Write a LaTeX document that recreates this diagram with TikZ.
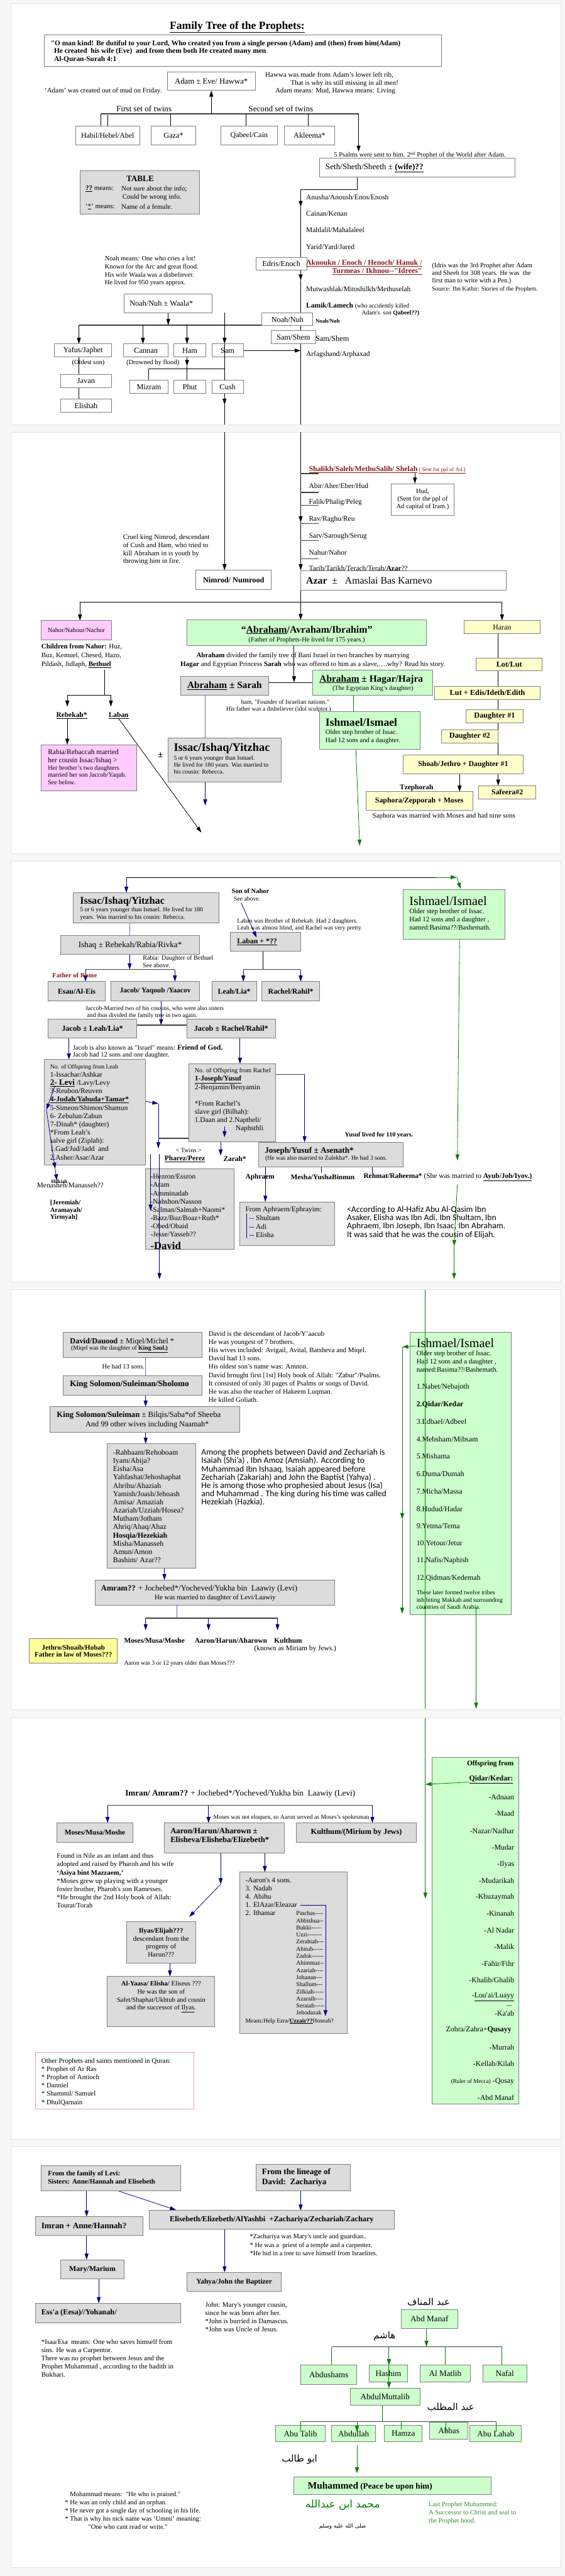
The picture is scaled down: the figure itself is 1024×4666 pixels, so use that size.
\documentclass[tikz,border=0pt]{standalone}
\usepackage{fontspec}
\setmainfont{Liberation Serif}[Ligatures=TeXOff]
\newfontfamily\sansf{Carlito}[Ligatures=TeXOff]
\newfontfamily\arabicfont[Script=Arabic]{DejaVu Sans}
\TeXXeTstate=1
\usetikzlibrary{arrows.meta}
\pgfdeclarelayer{back}
\pgfdeclarelayer{lines}
\pgfsetlayers{back,lines,main}
\definecolor{pagebg}{HTML}{F7F7F7}
\definecolor{panelline}{HTML}{E2E2E2}
\definecolor{boxgray}{HTML}{DCDCDC}
\definecolor{boxgreen}{HTML}{CCFFCC}
\definecolor{boxyellow}{HTML}{FFFFCC}
\definecolor{jyellow}{HTML}{FFFF99}
\definecolor{boxpink}{HTML}{FFCCFF}
\definecolor{darkred}{HTML}{8B1A1A}
\definecolor{navy}{HTML}{000080}
\definecolor{slate}{HTML}{6B6BB5}
\definecolor{agreen}{HTML}{008000}
\definecolor{tgreen}{HTML}{2F8F2F}
\definecolor{pinkline}{HTML}{F0A0A0}
\newcommand\fsz[2]{\fontsize{#1}{#2}\selectfont}
\newcommand\bx[7]{\node[#6, minimum width={(#4)-(#2)}, minimum height={(#5)-(#3)}] (#1) at ({((#2)+(#4))/2},{((#3)+(#5))/2}) {#7};}
\tikzset{
  panel/.style={fill=white, draw=panelline, line width=1.2pt},
  box/.style={draw=black!50, line width=1.1pt, inner sep=0pt, outer sep=0pt, align=center},
  wbox/.style={box, fill=white},
  gbox/.style={box, fill=boxgray},
  grbox/.style={box, fill=boxgreen},
  ybox/.style={box, fill=boxyellow},
  pbox/.style={box, fill=boxpink},
  txt/.style={inner sep=0pt, outer sep=0pt, align=left},
  arab/.style={inner sep=0pt, outer sep=0pt},
  tipA/.style={-{Triangle[width=7pt,length=11pt]}},
  ln/.style={draw=black, line width=0.9pt},
  arr/.style={ln, tipA},
  nln/.style={draw=navy, line width=0.9pt},
  narr/.style={nln, tipA},
  sln/.style={draw=slate, line width=0.9pt},
  gln/.style={draw=agreen, line width=0.9pt},
  garr/.style={gln, tipA},
  bar/.style={draw=black!75, line width=1.6pt}
}
\begin{document}
\begin{tikzpicture}[x=1pt,y=-1pt]
\useasboundingbox (0,0) rectangle (1024,4666);
\begin{pgfonlayer}{back}
\fill[pagebg] (0,0) rectangle (1024,4666);
\foreach \a/\b in {6/769,783/1546,1560/2322,2336/3097,3112/3875,3889/4651} {\draw[panel] (20,\a) rectangle (1017,\b);}
\end{pgfonlayer}

% ================= PANEL 1 =================
\node[txt, font=\fsz{20}{24}\bfseries] (title) at (430,49) {\underline{Family Tree of the Prophets:}};
\bx{quote}{80}{63}{800}{120}{wbox}{}
\node[txt, anchor=north west, font=\fsz{13}{14.5}\bfseries] (quotetxt) at (92,73) {"O man kind! Be dutiful to your Lord, Who created you from a single person (Adam) and (then) from him(Adam)\\\hspace*{6pt}He created\ \ his wife (Eve)\ \ and from them both He created many men\\\hspace*{6pt}Al-Quran-Surah 4:1};
\bx{adam}{303}{130}{463}{164}{wbox}{\fsz{14.5}{17}Adam ± Eve/ Hawwa*}
\node[txt, anchor=north west, font=\fsz{12.5}{14}] (hawwa) at (481,131) {Hawwa was made from Adam’s lower left rib,\\\hspace*{46pt}That is why its still missing in all men!\\\hspace*{18pt}Adam means: Mud, Hawwa means: Living};
\node[txt, anchor=west, font=\fsz{12.5}{14}] (mudnote) at (81,165) {‘Adam’ was created out of mud on Friday.};
\node[txt, font=\fsz{15}{17}] (tw1) at (261,197) {First set of twins};
\node[txt, font=\fsz{15}{17}] (tw2) at (509,197) {Second set of twins};
\bx{habil}{137}{228}{253}{263}{wbox}{\fsz{13.5}{16}Habil/Hebel/Abel}
\bx{gaza}{274}{228}{355}{263}{wbox}{\fsz{14}{16}Gaza*}
\bx{qabeel}{400}{228}{503}{263}{wbox}{\fsz{13.5}{16}Qabeel/Cain}
\bx{akleema}{515}{228}{607}{263}{wbox}{\fsz{14}{16}Akleema*}
\node[txt, font=\fsz{12}{14}] (psalms) at (761,281) {5 Psalms were sent to him. 2\textsuperscript{nd} Prophet of the World after Adam.};
\bx{seth}{579}{287}{933}{321}{wbox}{}
\node[txt, anchor=west, font=\fsz{15}{17}] (sethtxt) at (590,304) {Seth/Sheth/Sheeth ± \textbf{\underline{(wife)??}}};
\node[txt, anchor=west, font=\fsz{13}{15}] (enos) at (555,357) {Anusha/Anoush/Enos/Enosh};
\node[txt, anchor=west, font=\fsz{13}{15}] (kenan) at (555,387) {Cainan/Kenan};
\node[txt, anchor=west, font=\fsz{13}{15}] (mahl) at (555,417) {Mahlalil/Mahalaleel};
\node[txt, anchor=west, font=\fsz{13}{15}] (jared) at (555,447) {Yarid/Yard/Jared};
\bx{table}{145}{309}{362}{388}{gbox}{}
\node[txt, font=\fsz{15}{17}\bfseries] (tabletitle) at (254,324) {TABLE};
\node[txt, anchor=west, font=\fsz{12.5}{14}] (tq1) at (155,342) {\underline{\textbf{??}} means:};
\node[txt, anchor=west, font=\fsz{12.5}{14}] (tq2) at (220,342) {Not sure about the info;};
\node[txt, anchor=west, font=\fsz{12.5}{14}] (tq3) at (222,358) {Could be wrong info.};
\node[txt, anchor=west, font=\fsz{12.5}{14}] (tq4) at (155,374) {‘\underline{*}’ means:};
\node[txt, anchor=west, font=\fsz{12.5}{14}] (tq5) at (220,374) {Name of a female.};
\bx{edris}{464}{466}{556}{489}{wbox}{\fsz{14}{16}Edris/Enoch}
\node[txt, anchor=north east, align=right, font=\fsz{13.5}{15}\bfseries, text=darkred] (aknoukn) at (765,471) {\underline{Aknoukn / Enoch / Henoch/ Hanuk /}\\\underline{Turmeas / Ikhnou--"Idrees"}};
\node[txt, anchor=north west, font=\fsz{12}{14}] (idris) at (783,476) {(Idris was the 3rd Prophet after Adam\\and Sheeh for 308 years. He was\ \ the\\first man to write with a Pen.)\\{\fsz{11}{13}Source: Ibn Kathir: Stories of the Prophets.}};
\node[txt, anchor=west, font=\fsz{13}{15}] (methu) at (555,524) {Mutwashlak/Mitoshilkh/Methuselah};
\node[txt, anchor=west, font=\fsz{13}{15}] (lamech) at (555,554) {\textbf{Lamik/Lamech} {\fsz{11}{13}(who accidently killed}};
\node[txt, anchor=east, font=\fsz{11}{13}] (lamech2) at (760,568) {Adam's\ \ son \textbf{Qabeel??)}};
\node[txt, anchor=north west, font=\fsz{12}{14.5}] (noahnote) at (190,464) {Noah means: One who cries a lot!\\Known for the Arc and great flood.\\His wife Waala was a disbeliever.\\He lived for 950 years approx.};
\bx{noahw}{225}{533}{385}{567}{wbox}{}
\node[txt, anchor=west, font=\fsz{14}{16}] (noahwtxt) at (235,549) {Noah/Nuh ± Waala*};
\bx{noahnuh}{475}{567}{567}{590}{wbox}{\fsz{14}{16}Noah/Nuh}
\node[txt, anchor=west, font=\fsz{10}{12}\bfseries] (noahlbl) at (572,582) {Noah/Nuh};
\bx{shem}{492}{599}{572}{623}{wbox}{\fsz{14}{16}Sam/Shem}
\node[txt, anchor=west, font=\fsz{14}{16}] (shemlbl) at (572,613) {Sam/Shem};
\node[txt, anchor=west, font=\fsz{13}{15}] (arfa) at (555,642) {Arfagshand/Arphaxad};
\bx{yafus}{99}{623}{202}{647}{wbox}{\fsz{14}{16}Yafus/Japhet}
\bx{cannan}{224}{623}{305}{647}{wbox}{\fsz{14}{16}Cannan}
\bx{ham}{315}{623}{373}{647}{wbox}{\fsz{14}{16}Ham}
\bx{sam}{384}{623}{441}{647}{wbox}{\fsz{14}{16}Sam}
\node[txt, font=\fsz{12}{14}] (oldest) at (160,657) {(Oldest son)};
\node[txt, font=\fsz{12}{14}] (drowned) at (277,657) {(Drowned by flood)};
\bx{javan}{110}{678}{202}{702}{wbox}{\fsz{14}{16}Javan}
\bx{elishah}{110}{723}{202}{747}{wbox}{\fsz{14}{16}Elishah}
\bx{mizram}{235}{689}{305}{713}{wbox}{\fsz{14}{16}Mizram}
\bx{phut}{315}{689}{373}{713}{wbox}{\fsz{14}{16}Phut}
\bx{cush}{384}{689}{441}{713}{wbox}{\fsz{14}{16}Cush}

% ================= PANEL 2 =================
\node[txt, anchor=west, font=\fsz{13.5}{15}, text=darkred] (shalikh) at (560,851) {\textbf{\underline{Shalikh/Saleh/MethuSalih/ Shelah}}\,{\fsz{10}{12}\underline{( Sent for ppl of Ad.)}}};
\bx{hud}{709}{876}{823}{933}{wbox, font=\fsz{12}{13.5}}{Hud,\\(Sent for the ppl of\\Ad capital of Iram.)}
\node[txt, anchor=west, font=\fsz{13}{15}] (eber) at (560,880) {Abir/Aher/Eber/Hud};
\node[txt, anchor=west, font=\fsz{13}{15}] (peleg) at (560,910) {Falik/Phalig/Peleg};
\node[txt, anchor=west, font=\fsz{13}{15}] (reu) at (560,941) {Rav/Raghu/Reu};
\node[txt, anchor=west, font=\fsz{13}{15}] (serug) at (560,971) {Sarv/Sarough/Serug};
\node[txt, anchor=west, font=\fsz{13}{15}] (nahur) at (560,1001) {Nahur/Nahor};
\node[txt, anchor=west, font=\fsz{13}{15}] (terah) at (560,1029) {Tarih/Tarikh/Terach/Terah/\textbf{Azar}??};
\bx{azar}{545}{1034}{917}{1069}{wbox}{}
\node[txt, anchor=west, font=\fsz{18}{20}] (azartxt) at (555,1052) {\textbf{Azar}\ \ ±\ \ \ Amaslai Bas Karnevo};
\node[txt, anchor=north west, font=\fsz{12.5}{14.6}] (cruel) at (223,968) {Cruel king Nimrod, descendant\\of Cush and Ham, who tried to\\kill Abraham in is youth by\\throwing him in fire.};
\bx{nimrod}{355}{1033}{492}{1068}{wbox}{\fsz{14}{16}\bfseries Nimrod/ Numrood}
\bx{nahor}{75}{1124}{202}{1159}{pbox}{\fsz{11.5}{13}Nahor/Nahour/Nachor}
\bx{abraham}{339}{1123}{773}{1169}{grbox}{}
\node[txt, font=\fsz{18}{20}\bfseries] (abrtxt) at (556,1141) {“\underline{Abraham}/Avraham/Ibrahim”};
\node[txt, font=\fsz{12}{14}] (abrsub) at (556,1159) {(Father of Prophets-He lived for 175 years.)};
\bx{haran}{841}{1124}{979}{1148}{ybox}{\fsz{13.5}{15}Haran}
\node[txt, anchor=north west, font=\fsz{12.5}{16}] (nahorkids) at (75,1166) {\textbf{Children from Nahor:} Huz,\\Buz, Kemuel, Chesed, Hazo,\\Pildash, Jidlaph, \textbf{\underline{Bethuel}}};
\node[txt, font=\fsz{12.5}{14}] (divided1) at (549,1188) {\textbf{Abraham} divided the family tree of Bani Israel in two branches by marrying};
\node[txt, font=\fsz{12.5}{14}] (divided2) at (567,1204) {\textbf{Hagar} and Egyptian Princess \textbf{Sarah} who was offered to him as a slave,….why? Read his story.};
\bx{lot}{863}{1192}{983}{1215}{ybox}{\fsz{14}{16}\bfseries Lot/Lut}
\bx{sarah}{327}{1225}{487}{1259}{gbox}{\fsz{17.5}{20}\bfseries\underline{Abraham} ± Sarah}
\bx{hagar}{567}{1214}{784}{1259}{grbox}{}
\node[txt, font=\fsz{17.5}{20}\bfseries] (hagartxt) at (673,1231) {\underline{Abraham} ± Hagar/Hajra};
\node[txt, font=\fsz{11.5}{13}] (hagarsub) at (676,1247) {(The Egyptian King’s daughter)};
\node[txt, font=\fsz{11}{13}] (founder1) at (517,1272) {ham, "Founder of Israelian nations."};
\node[txt, font=\fsz{11}{13}] (founder2) at (505,1285) {His father was a disbeliever (idol sculptor.)};
\node[txt, font=\fsz{13}{15}\bfseries] (rebekah) at (130,1296) {\underline{Rebekah*}};
\node[txt, font=\fsz{13}{15}\bfseries] (laban) at (215,1296) {\underline{Laban}};
\bx{pink}{75}{1349}{248}{1433}{pbox}{}
\node[txt, anchor=north west, font=\fsz{13}{15.5}] (pink1) at (87,1357) {Rabia/Rebaccah married\\her cousin Issac/Ishaq >};
\node[txt, anchor=north west, font=\fsz{11.5}{13}] (pink2) at (87,1387) {Her brother’s two daughters\\married her son Jaccob/Yaqub.\\See below.};
\node[txt, font=\fsz{16}{18}\bfseries] (pm1) at (291,1368) {±};
\bx{issac}{305}{1337}{510}{1417}{gbox}{}
\node[txt, anchor=west, font=\fsz{21}{24}\bfseries] (issactitle) at (315,1356) {Issac/Ishaq/Yitzhac};
\node[txt, anchor=north west, font=\fsz{11}{12.7}] (issacsub) at (315,1369) {5 or 6 years younger than Ismael.\\He lived for 180 years. Was married to\\his cousin: Rebecca.};
\bx{ishmael}{579}{1289}{762}{1357}{grbox}{}
\node[txt, anchor=west, font=\fsz{20}{23}\bfseries] (ishtitle) at (590,1308) {Ishmael/Ismael};
\node[txt, anchor=north west, font=\fsz{12}{15}] (ishsub) at (590,1321) {Older step brother of Issac.\\Had 12 sons and a daughter.};
\bx{lutedis}{788}{1243}{979}{1267}{ybox}{\fsz{14}{16}\bfseries Lut + Edis/Ideth/Edith}
\bx{dau1}{845}{1285}{948}{1309}{ybox}{\fsz{14}{16}\bfseries Daughter \#1}
\bx{dau2}{800}{1322}{903}{1346}{ybox}{\fsz{14}{16}\bfseries Daughter \#2}
\bx{shoab}{731}{1367}{948}{1402}{ybox}{\fsz{13.5}{16}\bfseries Shoab/Jethro + Daughter \#1}
\node[txt, font=\fsz{13}{15}\bfseries] (tzeph) at (755,1427) {Tzephorah};
\bx{saphora}{663}{1434}{857}{1468}{ybox}{\fsz{13.5}{16}\bfseries Saphora/Zepporah + Moses}
\bx{safeera}{868}{1423}{971}{1447}{ybox}{\fsz{13.5}{16}\bfseries Safeera\#2}
\node[txt, anchor=west, font=\fsz{12.5}{14}] (ninesons) at (675,1478) {Saphora was married with Moses and had nine sons};

% ================= PANEL 3 =================
\bx{issac2}{133}{1617}{397}{1672}{gbox}{}
\node[txt, anchor=west, font=\fsz{18.5}{21}\bfseries] (issac2t) at (145,1633) {Issac/Ishaq/Yitzhac};
\node[txt, anchor=north west, font=\fsz{11}{13}] (issac2s) at (145,1644) {5 or 6 years younger than Ismael. He lived for 180\\years. Was married to his cousin: Rebecca.};
\bx{ishaq}{110}{1695}{362}{1729}{gbox}{\fsz{15}{17}Ishaq ± Rebekah/Rabia/Rivka*}
\node[txt, anchor=north west, font=\fsz{11.5}{13}] (rabianote) at (259,1731) {Rabia: Daughter of Bethuel\\See above.};
\node[txt, anchor=west, font=\fsz{12}{14}\bfseries, text=darkred] (rome) at (95,1767) {Father of Rome};
\bx{esau}{87}{1778}{191}{1813}{gbox}{\fsz{13.5}{16}\bfseries Esau/Al-Eis}
\bx{jacob}{201}{1778}{362}{1813}{gbox}{\fsz{13}{16}\bfseries Jacob/ Yaqoub /Yaacov}
\node[txt, anchor=west, font=\fsz{12}{14}\bfseries] (sonnahor) at (420,1614) {Son of Nahor};
\node[txt, anchor=west, font=\fsz{11}{13}] (seeabove) at (424,1628) {See above.};
\node[txt, anchor=north west, font=\fsz{11}{12}] (labannote) at (430,1664) {Laban was Brother of Rebekah. Had 2\ daughters.\\Leah was almost blind, and Rachel was very pretty.};
\bx{laban2}{418}{1689}{545}{1723}{gbox}{}
\node[txt, anchor=west, font=\fsz{13.5}{16}\bfseries] (laban2t) at (430,1706) {\underline{Laban + *??}};
\bx{leah}{384}{1778}{465}{1813}{gbox}{\fsz{13.5}{16}\bfseries Leah/Lia*}
\bx{rachel}{475}{1778}{579}{1813}{gbox}{\fsz{13.5}{16}\bfseries Rachel/Rahil*}
\node[txt, anchor=north west, font=\fsz{11}{12.5}] (jacobnote) at (155,1822) {Jaccob-Married two of his cousins, who were also sisters\\\hspace*{3pt}and thus divided the family tree in two again.};
\bx{jl}{87}{1846}{248}{1880}{gbox}{\fsz{14}{16}\bfseries Jacob ± Leah/Lia*}
\bx{jr}{339}{1846}{499}{1880}{gbox}{\fsz{14}{16}\bfseries Jacob ± Rachel/Rahil*}
\node[txt, anchor=west, font=\fsz{12}{14}] (israel) at (132,1897) {Jacob is also known as "Israel" means: {\fsz{13}{15}\bfseries Friend of God.}};
\node[txt, anchor=west, font=\fsz{12}{14}] (twelve) at (132,1912) {Jacob had 12 sons and one daughter.};
\bx{leahoff}{80}{1919}{264}{2110}{gbox}{}
\node[txt, anchor=north west, font=\fsz{13}{15}] (leahlist) at (91,1928) {{\fsz{11}{15}No. of Offspring from Leah}\\1-Issachar/Ashkar\\{\fsz{15}{15}\textbf{\underline{2- Levi}}} /Lavy/Levy\\3-Reubon/Reuven\\\textbf{\underline{4-Judah/Yahuda+Tamar*}}\\5-Simeon/Shimon/Shamun\\6- Zebulun/Zabun\\7-Dinah* (daughter)\\{}*From Leah’s\\salve girl (Ziplah):\\1.Gad/Jud/Jadd\ \ and\\2.Asher/Asar/Azar};
\bx{racheloff}{342}{1927}{499}{2068}{gbox}{}
\node[txt, anchor=north west, font=\fsz{13}{15}] (rachellist) at (353,1935) {{\fsz{11.5}{15}No. of Offspring from Rachel}\\\textbf{\underline{1-Joseph/Yusuf}}\\2-Benjamin/Benyamin\\\mbox{}\\{}*From Rachel’s\\slave girl (Bilhah):\\1.Daan and 2.Naptheli/\\\hspace*{74pt}Naphsthli};
\node[txt, font=\fsz{11.5}{13}] (twins) at (342,2084) {< Twins >};
\node[txt, font=\fsz{13}{15}\bfseries] (pharez) at (335,2099) {\underline{Pharez/Perez}};
\node[txt, anchor=west, font=\fsz{13}{15}\bfseries] (zarah) at (405,2099) {Zarah*};
\bx{davidline}{264}{2117}{424}{2263}{gbox}{}
\node[txt, anchor=north west, font=\fsz{13}{15}] (davidlist) at (273,2127) {-Hezron/Essron\\-Aram\\-Amminadab\\-Nahshon/Nasson\\-Salman/Salmah+Naomi*\\-Bazz/Buz/Boaz+Ruth*\\-Obed/Obaid\\-Jesse/Yasseh??};
\node[txt, anchor=west, font=\fsz{19}{21}\bfseries] (davidlbl) at (273,2256) {-David};
\node[txt, anchor=west, font=\fsz{13}{15}] (menasheh) at (67,2147) {Menasheh/Manasseh??};
\node[txt, anchor=west, font=\fsz{9}{10}\bfseries] (hilkiah) at (93,2140) {Hilkiah};
\node[txt, anchor=north west, font=\fsz{12}{13}\bfseries] (jeremiah) at (91,2174) {[Jeremiah/\\Aramayah/\\Yirmyah]};
\node[txt, anchor=west, font=\fsz{11.5}{13}\bfseries] (yusuf110) at (625,2056) {Yusuf lived for 110 years.};
\bx{joseph}{469}{2069}{731}{2114}{gbox}{}
\node[txt, anchor=west, font=\fsz{15}{17}\bfseries] (josepht) at (480,2085) {Joseph/Yusuf ± Asenath*};
\node[txt, anchor=west, font=\fsz{11}{13}] (josephs) at (481,2099) {(He was also married to Zulekha*. He had 3 sons.};
\node[txt, anchor=west, font=\fsz{13}{15}\bfseries] (aphraem) at (445,2132) {Aphraem};
\node[txt, anchor=west, font=\fsz{13}{15}\bfseries] (mesha) at (527,2132) {Mesha/YushaBinnun};
\node[txt, anchor=west, font=\fsz{13}{15}] (rehmat) at (659,2132) {\textbf{Rehmat/Raheema*} (She was married to \textbf{\underline{Ayub/Job/Iyov.)}}};
\bx{aphbox}{435}{2177}{607}{2256}{gbox}{}
\node[txt, anchor=west, font=\fsz{13}{15}] (aphtitle) at (445,2192) {From Aphraem/Ephrayim:};
\node[txt, anchor=north west, font=\fsz{13}{15}] (aphlist) at (452,2202) {-- Shultam\\-- Adi\\-- Elisha};
\node[txt, anchor=north west, font=\sansf\fsz{15.5}{15}] (hafiz) at (629,2185) {<According to Al-Hafiz Abu Al-Qasim Ibn\\Asaker, Elisha was Ibn Adi, Ibn Shultam, Ibn\\Aphraem, Ibn Joseph, Ibn Isaac, Ibn Abraham.\\It was said that he was the cousin of Elijah.};
\bx{ishmael2}{731}{1611}{915}{1701}{grbox}{}
\node[txt, anchor=west, font=\fsz{23}{26}] (ish2t) at (742,1632) {Ishmael/Ismael};
\node[txt, anchor=north west, font=\fsz{12.5}{14.5}] (ish2s) at (742,1646) {Older step brother of Issac.\\Had 12 sons and a daughter ,\\named:Basima??/Bashemath.};

% ================= PANEL 4 =================
\bx{david}{115}{2413}{366}{2459}{gbox}{}
\node[txt, anchor=west, font=\fsz{14}{16}] (davidt) at (127,2430) {\textbf{David/Dauood} ± Miqel/Michel *};
\node[txt, anchor=west, font=\fsz{11}{13}] (davids) at (129,2444) {(Miqel was the daughter of \textbf{\underline{King Saul.)}}};
\node[txt, anchor=east, font=\fsz{12}{14}] (thirteen) at (262,2475) {He had 13 sons.};
\bx{solomon}{115}{2492}{366}{2527}{gbox}{}
\node[txt, anchor=west, font=\fsz{15}{17}\bfseries] (solomont) at (127,2508) {King Solomon/Suleiman/Sholomo};
\bx{bilqis}{91}{2548}{435}{2594}{gbox}{}
\node[txt, anchor=west, font=\fsz{14.5}{17}] (bilqist) at (103,2564) {\textbf{King Solomon/Suleiman} ± Bilqis/Saba*of Sheeba};
\node[txt, anchor=west, font=\fsz{14}{16}] (bilqiss) at (155,2581) {And 99 other wives including Naamah*};
\bx{kings}{194}{2615}{355}{2841}{gbox}{}
\node[txt, anchor=north west, font=\fsz{13.5}{15}] (kingslist) at (205,2626) {-Rahbaam/Rehoboam\\Iyam/Abija?\\Eisha/Asa\\Yahfashat/Jehoshaphat\\Ahrihu/Ahaziah\\Yamish/Joash/Jehoash\\Amisa/ Amaziah\\Azariah/Uzziah/Hosea?\\Mutham/Jotham\\Ahriq/Ahaq/Ahaz\\\textbf{Hosqia/Hezekiah}\\Misha/Manasseh\\Amun/Amon\\Bashim/ Azar??};
\node[txt, anchor=north west, font=\fsz{12.5}{15}] (davidnote) at (378,2411) {David is the descendant of Jacob/Y’aacub\\He was youngest of 7 brothers.\\His wives included: Avigail, Avital, Batsheva and Miqel.\\David had 13 sons.\\His oldest son’s name was: Amnon.\\David brought first [1st] Holy book of Allah: "Zabur"/Psalms.\\It consisted of only 30 pages of Psalms or songs of David.\\He was also the teacher of Hakeem Luqman.\\He killed Goliath.};
\node[txt, anchor=north west, font=\sansf\fsz{15.5}{15}] (isaiah) at (365,2625) {Among the prophets between David and Zechariah is\\Isaiah (Shi’a) , Ibn Amoz (Amsiah). According to\\Muhammad Ibn Ishaaq, Isaiah appeared before\\Zechariah (Zakariah) and John the Baptist (Yahya) .\\He is among those who prophesied about Jesus (Isa)\\and Muhammad . The king during his time was called\\Hezekiah (Hazkia).};
\bx{ishmael3}{743}{2413}{927}{2925}{grbox}{}
\node[txt, anchor=west, font=\fsz{23}{26}] (ish3t) at (755,2433) {Ishmael/Ismael};
\node[txt, anchor=north west, font=\fsz{12.5}{14.5}] (ish3s) at (755,2447) {Older step brother of Issac.\\Had 12 sons and a daughter ,\\named:Basima??/Bashemath.};
\node[txt, anchor=west, font=\fsz{13.5}{15}] (is01) at (755,2512) {1.Nabet/Nebajoth};
\node[txt, anchor=west, font=\fsz{13.5}{15}\bfseries] (is02) at (755,2544) {2.Qidar/Kedar};
\node[txt, anchor=west, font=\fsz{13.5}{15}] (is03) at (755,2575) {3.Edbael/Adbeel};
\node[txt, anchor=west, font=\fsz{13.5}{15}] (is04) at (755,2607) {4.Mebsham/Mibsam};
\node[txt, anchor=west, font=\fsz{13.5}{15}] (is05) at (755,2638) {5.Mishama};
\node[txt, anchor=west, font=\fsz{13.5}{15}] (is06) at (755,2670) {6.Duma/Dumah};
\node[txt, anchor=west, font=\fsz{13.5}{15}] (is07) at (755,2701) {7.Micha/Massa};
\node[txt, anchor=west, font=\fsz{13.5}{15}] (is08) at (755,2733) {8.Hudud/Hadar};
\node[txt, anchor=west, font=\fsz{13.5}{15}] (is09) at (755,2764) {9.Yetma/Tema};
\node[txt, anchor=west, font=\fsz{13.5}{15}] (is10) at (755,2795) {10.Yetour/Jetur};
\node[txt, anchor=west, font=\fsz{13.5}{15}] (is11) at (755,2827) {11.Nafis/Naphish};
\node[txt, anchor=west, font=\fsz{13.5}{15}] (is12) at (755,2858) {12.Qidman/Kedemah};
\node[txt, anchor=north west, font=\fsz{11}{13}] (tribes) at (755,2881) {These later formed twelve tribes\\inhibiting Makkah and surrounding\\countries of Saudi Arabia.};
\bx{amram}{172}{2862}{607}{2908}{gbox}{}
\node[txt, anchor=west, font=\fsz{14.5}{17}] (amramt) at (183,2878) {\textbf{Amram??} + Jochebed*/Yocheved/Yukha bin\ \ Laawiy (Levi)};
\node[txt, font=\fsz{12.5}{14}] (amrams) at (390,2894) {He was married to daughter of Levi/Laawiy};
\node[txt, anchor=west, font=\fsz{13}{15}\bfseries] (moseslbl) at (225,2972) {Moses/Musa/Moshe};
\node[txt, anchor=west, font=\fsz{13}{15}\bfseries] (aaronlbl) at (353,2972) {Aaron/Harun/Aharown};
\node[txt, anchor=west, font=\fsz{13}{15}\bfseries] (kulthumlbl) at (497,2972) {Kulthum};
\node[txt, anchor=west, font=\fsz{13}{15}] (miriam) at (461,2987) {(known as Miriam by Jews.)};
\node[txt, anchor=west, font=\fsz{11}{13}] (aaronolder) at (225,3013) {Aaron was 3 or 12 years older than Moses???};
\bx{jethro}{53}{2968}{213}{3013}{box, fill=jyellow, font=\fsz{12.5}{13.5}\bfseries}{Jethro/Shoaib/Hobab\\Father in law of Moses???}

% ================= PANEL 5 =================
\bx{offspring}{783}{3183}{940}{3811}{grbox}{}
\node[txt, anchor=east, font=\fsz{13}{15}\bfseries] (offhead) at (931,3195) {Offspring from};
\node[txt, anchor=east, font=\fsz{13.5}{15}\bfseries] (offqidar) at (930,3223) {\underline{Qidar/Kedar:}};
\node[txt, anchor=east, font=\fsz{13.5}{15}] (q01) at (932,3255) {-Adnaan};
\node[txt, anchor=east, font=\fsz{13.5}{15}] (q02) at (932,3285) {-Maad};
\node[txt, anchor=east, font=\fsz{13.5}{15}] (q03) at (932,3316) {-Nazar/Nadhar};
\node[txt, anchor=east, font=\fsz{13.5}{15}] (q04) at (932,3346) {-Mudar};
\node[txt, anchor=east, font=\fsz{13.5}{15}] (q05) at (932,3377) {-Ilyas};
\node[txt, anchor=east, font=\fsz{13.5}{15}] (q06) at (932,3406) {-Mudarikah};
\node[txt, anchor=east, font=\fsz{13.5}{15}] (q07) at (932,3436) {-Khuzaymah};
\node[txt, anchor=east, font=\fsz{13.5}{15}] (q08) at (932,3466) {-Kinanah};
\node[txt, anchor=east, font=\fsz{13.5}{15}] (q09) at (932,3496) {-Al Nadar};
\node[txt, anchor=east, font=\fsz{13.5}{15}] (q10) at (932,3526) {-Malik};
\node[txt, anchor=east, font=\fsz{13.5}{15}] (q11) at (932,3557) {-Fahir/Fihr};
\node[txt, anchor=east, font=\fsz{13.5}{15}] (q12) at (932,3586) {-Khalib/Ghalib};
\node[txt, anchor=east, font=\fsz{13.5}{15}] (q13) at (932,3617) {-\underline{Lou'ai/Luayy}};
\node[txt, anchor=east, font=\fsz{10}{12}\bfseries] (q13b) at (928,3634) {---};
\node[txt, anchor=east, font=\fsz{13.5}{15}] (q14) at (932,3647) {-Ka'ab};
\node[txt, anchor=east, font=\fsz{13.5}{15}] (q15) at (927,3677) {Zohra/Zahra+\textbf{Qusayy}};
\node[txt, anchor=east, font=\fsz{13.5}{15}] (q16) at (932,3708) {-Murrah};
\node[txt, anchor=east, font=\fsz{13.5}{15}] (q17) at (932,3738) {-Kellab/Kilab};
\node[txt, anchor=east, font=\fsz{13.5}{15}] (q18) at (932,3770) {{\fsz{10.5}{12}(Ruler of Mecca)} -Qosay};
\node[txt, anchor=east, font=\fsz{13.5}{15}] (q19) at (932,3799) {-Abd Manaf};
\node[txt, anchor=west, font=\fsz{15}{17}] (imran) at (227,3249) {\textbf{Imran/ Amram??} + Jochebed*/Yocheved/Yukha bin\ \ Laawiy (Levi)};
\node[txt, anchor=west, font=\fsz{11}{13}] (spokes) at (387,3292) {Moses was not eloquen, so Aaron served as Moses’s spokesman};
\bx{moses2}{103}{3302}{241}{3337}{gbox}{\fsz{13}{15}\bfseries Moses/Musa/Moshe}
\bx{aaron}{298}{3302}{515}{3357}{gbox}{}
\node[txt, anchor=north west, font=\fsz{14.5}{16}\bfseries] (aaront) at (309,3311) {Aaron/Harun/Aharown ±\\Elisheva/Elisheba/Elizebeth*};
\bx{kulthum}{537}{3302}{755}{3337}{gbox}{\fsz{14}{16}\bfseries Kulthum/(Mirium by Jews)}
\node[txt, anchor=north west, font=\fsz{12.5}{15}] (mosesnote) at (103,3357) {Found in Nile as an infant and thus\\adopted and raised by Pharoh and his wife\\\textbf{‘Asiya bint Mazzaem,’}\\{}*Moses grew up playing with a younger\\foster brother, Pharoh's son Ramesses.\\{}*He brought the 2nd Holy book of Allah:\\Tourat/Torah};
\bx{aaronsons}{435}{3391}{629}{3683}{gbox}{}
\node[txt, anchor=north west, font=\fsz{13}{15}] (aaronlist) at (445,3401) {-Aaron's 4 sons.\\3. Nadab\\4. Abihu\\1. ElAzar/Eleazar\\2. Ithamar};
\node[txt, anchor=north west, font=\fsz{11}{12.86}] (priests) at (537,3462) {Pinchas----\\Abbishua--\\Bukki-----\\Uzzi-------\\Zerahiah---\\Ahitub-----\\Zadok------\\Ahimmaz--\\Azariah----\\Johanan---\\Shallum---\\Zilkiah-----\\Azaraih----\\Seraiah-----\\Jehodazak};
\node[txt, anchor=west, font=\fsz{11}{13}] (ezra) at (445,3661) {Means:Help Ezra/\textbf{\underline{Uzzair??}}Hoseah?};
\bx{ilyas}{229}{3481}{355}{3556}{gbox, font=\fsz{12.5}{14.5}}{\textbf{Ilyas/Elijah???}\\descendant from the\\progeny of\\Harun???}
\bx{alyaasa}{194}{3580}{389}{3671}{gbox}{}
\node[txt, anchor=north, align=center, font=\fsz{12}{14.3}] (alyaasat) at (292,3589) {\textbf{Al-Yaasa/ Elisha/} Eliseus ???\\He was the son of\\Safet/Shaphat/Ukhtub and cousin\\and the successor of \underline{Ilyas}.};
\bx{others}{64}{3718}{351}{3820}{box, fill=white, draw=pinkline}{}
\node[txt, anchor=north west, font=\fsz{12.5}{15}] (otherst) at (75,3728) {Other Prophets and saints mentioned in Quran:\\{}* Prophet of Ar Ras\\{}* Prophet of Antioch\\{}* Danniel\\{}* Shammil/ Samuel\\{}* DhulQarnain};

% ================= PANEL 6 =================
\bx{levi}{75}{3923}{328}{3968}{gbox}{}
\node[txt, anchor=north west, font=\fsz{12.5}{15}\bfseries] (levit) at (87,3932) {From the family of Levi:\\Sisters: Anne/Hannah and Elisebeth};
\bx{zachl}{464}{3920}{635}{3968}{gbox}{}
\node[txt, anchor=north west, font=\fsz{15}{18}\bfseries] (zachlt) at (475,3928) {From the lineage of\\David:\ \ Zachariya};
\bx{imranb}{64}{4015}{259}{4049}{gbox}{}
\node[txt, anchor=west, font=\fsz{15}{17}\bfseries] (imranbt) at (75,4031) {Imran + Anne/Hannah?};
\bx{elis}{270}{4004}{715}{4038}{gbox}{\fsz{14}{16}\bfseries Elisebeth/Elizebeth/AlYashbi\ \ +Zachariya/Zechariah/Zachary}
\bx{mary}{110}{4093}{225}{4128}{gbox}{\fsz{13.5}{16}\bfseries Mary/Marium}
\bx{essa}{64}{4172}{328}{4207}{gbox}{}
\node[txt, anchor=west, font=\fsz{14}{16}\bfseries] (essat) at (75,4189) {Ess'a (Eesa)//Yohanah/};
\bx{yahya}{339}{4116}{510}{4151}{gbox}{\fsz{13}{16}\bfseries Yahya/John the Baptizer}
\node[txt, anchor=north west, font=\fsz{12}{15}] (zachnote) at (453,4047) {*Zachariya was Mary's uncle and guardian..\\{}* He was a\ \ priest of a temple and a carpenter.\\{}*He hid in a tree to save himself from Israelites.};
\node[txt, anchor=north west, font=\fsz{12.5}{15}] (johnnote) at (372,4170) {John: Mary's younger cousin,\\since he was born after her.\\{}*John is burried in Damascus.\\{}*John was Uncle of Jesus.};
\node[txt, anchor=north west, font=\fsz{12.5}{14.8}] (isaanote) at (75,4237) {*Isaa/Esa\ \ means: One who saves himself from\\sins. He was a Carpentor.\\There was no prophet between Jesus and the\\Prophet Muhammad , according to the hadith in\\Bukhari.};
\node[arab, font=\arabicfont\fsz{17}{20}] (ar1) at (777,4170) {\beginR عبد المناف\endR};
\bx{abdmanaf}{727}{4183}{830}{4218}{grbox}{\fsz{15}{17}Abd Manaf}
\node[arab, font=\arabicfont\fsz{17}{20}] (ar2) at (697,4231) {\beginR هاشم\endR};
\bx{abdushams}{545}{4284}{647}{4319}{grbox}{\fsz{15}{17}Abdushams}
\bx{hashim}{669}{4284}{739}{4315}{grbox}{\fsz{15}{17}Hashim}
\bx{almatlib}{761}{4284}{853}{4315}{grbox}{\fsz{15}{17}Al Matlib}
\bx{nafal}{875}{4284}{955}{4315}{grbox}{\fsz{15}{17}Nafal}
\bx{muttalib}{635}{4326}{761}{4357}{grbox}{\fsz{15}{17}AbdulMuttalib}
\node[arab, font=\arabicfont\fsz{17}{20}] (ar3) at (817,4361) {\beginR عبد المطلب\endR};
\bx{abutalib}{499}{4393}{590}{4423}{grbox}{\fsz{15}{17}Abu Talib}
\bx{abdullah}{601}{4393}{681}{4423}{grbox}{\fsz{15}{17}Abdullah}
\bx{hamza}{697}{4393}{765}{4423}{grbox}{\fsz{15}{17}Hamza}
\bx{abbas}{779}{4387}{848}{4418}{grbox}{\fsz{15}{17}Abbas}
\bx{abulahab}{852}{4393}{945}{4423}{grbox}{\fsz{15}{17}Abu Lahab}
\node[arab, font=\arabicfont\fsz{17}{20}] (ar4) at (543,4455) {\beginR ابو طالب\endR};
\bx{muhammed}{532}{4487}{890}{4518}{grbox}{}
\node[txt, anchor=west, font=\fsz{15}{18}\bfseries] (muht) at (558,4504) {{\fsz{17.5}{20}Muhammed} (Peace be upon him)};
\node[arab, font=\arabicfont\fsz{19}{22}, text=agreen] (ar5) at (621,4537) {\beginR محمد ابن عبدالله\endR};
\node[arab, font=\arabicfont\fsz{10}{12}] (ar6) at (621,4576) {\beginR صلى الله عليه وسلم\endR};
\node[txt, anchor=north west, font=\fsz{12}{14.5}, text=tgreen] (lastp) at (777,4532) {Last Prophet Muhammed:\\A Successor to Christ and seal to\\the Prophet hood.};
\node[txt, anchor=north west, font=\fsz{12}{15}] (mohnote) at (118,4513) {\hspace*{9pt}Mohammad means:\ \ "He who is praised."\\{}* He was an only child and an orphan.\\{}* He never got a single day of schooling in his life.\\{}* That is why his nick name was ‘Ummi’ meaning:\\\hspace*{42pt}"One who cant read or write."};

% ================= CONNECTORS (under boxes) =================
\begin{pgfonlayer}{lines}
% panel 1
\coordinate (tL) at (183,206); \coordinate (tL2) at (195,208); \coordinate (tR) at (650,206); \coordinate (tA) at (383,206);
\coordinate (dg) at (309,206); \coordinate (dq) at (446,206); \coordinate (da) at (559,206);
\draw[bar] (tL) -- (tR);
\draw[arr] (tA) -- (adam.south);
\draw[ln] (tL) -- (tL |- habil.north);
\draw[ln] (tL2) -- (tL2 |- habil.north);
\draw[ln] (dg) -- (dg |- gaza.north);
\draw[ln] (dq) -- (dq |- qabeel.north);
\draw[ln] (da) -- (da |- akleema.north);
\draw[arr] (tR) -- (tR |- psalms.north);
\coordinate (s1) at (647,343); \coordinate (s2) at (545,343); \coordinate (m1) at (545,375); \coordinate (m2) at (545,508); \coordinate (m3) at (545,769);
\draw[ln] (seth.south -| s1) -- (s1) -- (s2);
\draw[arr] (s2) -- (m1);
\draw[arr] (m1) -- (m2);
\draw[ln] (m2) -- (m3);
\coordinate (nbL) at (143,589); \coordinate (nb2) at (259,589); \coordinate (nb3) at (339,589); \coordinate (c1) at (407,566);
\draw[arr] (noahw.south) -- (noahw.south |- nbL);
\draw[bar] (nbL) -- (nbL -| noahnuh.west);
\draw[arr] (nbL) -- (nbL |- yafus.north);
\draw[arr] (nb2) -- (nb2 |- cannan.north);
\draw[arr] (nb3) -- (nb3 |- ham.north);
\draw[arr] (c1) -- (c1 |- sam.north);
\coordinate (h1) at (339,663); \coordinate (mz) at (269,668); \coordinate (c2) at (407,733); \coordinate (c3) at (407,769);
\draw[arr] (ham.south -| h1) -- (h1);
\draw[ln] (h1) -- (h1 |- phut.north);
\draw[ln] (mz -| c1) -- (mz) -- (mz |- mizram.north);
\draw[ln] (yafus.south -| nbL) -- (javan.north -| nbL);
\draw[ln] (javan.south -| nbL) -- (elishah.north -| nbL);
\draw[arr] (cush.south -| c1) -- (c2);
\draw[ln] (c2) -- (c3);
\draw[arr, line width=1.6pt] (sam.east) -- (sam.east -| m1);
% panel 2
\coordinate (q1) at (407,783); \coordinate (q2) at (545,783); \coordinate (q3) at (545,946); \coordinate (q4) at (545,1033); \coordinate (abar) at (545,1091);
\coordinate (aL) at (145,1091); \coordinate (aR) at (910,1091);
\draw[arr] (q1) -- (q1 |- nimrod.north);
\draw[arr] (q2) -- (q3);
\draw[arr] (q3) -- (q4);
\draw[ln] (q4) -- (abar);
\draw[arr] (abar) -- (abar |- abraham.north);
\draw[ln] (aL) -- (aR);
\draw[arr] (aL) -- (aL |- nahor.north);
\draw[arr] (aR) -- (aR |- haran.north);
\foreach \yy in {858,892,915,948,979,1012} {\draw[bar] (545,\yy) -- (578,\yy);}
\coordinate (hd) at (752,856);
\draw[arr] (hd) -- (hd |- hud.north);
\coordinate (hx) at (903,1148);
\draw[ln] (hx) -- (hx |- shoab.north);
\coordinate (ab1) at (533,1169); \coordinate (ab2) at (533,1236);
\draw[arr] (ab1) -- (ab2);
\draw[ln] (sarah.east |- ab2) -- (hagar.west |- ab2);
\coordinate (be1) at (190,1213); \coordinate (be2) at (190,1259); \coordinate (rb1) at (122,1259); \coordinate (rb2) at (201,1259);
\draw[ln] (be1) -- (be2);
\draw[ln] (rb1) -- (rb2);
\draw[arr] (rb1) -- (122,1280);
\draw[arr] (rb2) -- (201,1280);
\draw[arr] (rebekah.south -| rb1) -- (rb1 |- pink.north);
\coordinate (lb2) at (365,1508);
\draw[arr] (laban.south) -- (lb2);
\coordinate (si) at (372,1259); \coordinate (si2) at (372,1459);
\draw[sln] (si) -- (si |- issac.north);
\draw[narr] (si |- issac.south) -- (si2);
\coordinate (hi) at (641,1259);
\draw[gln] (hi) -- (hi |- ishmael.north);
\coordinate (ig1) at (645,1357); \coordinate (ig2) at (652,1532);
\draw[garr] (ig1) -- (ig2);
\coordinate (sh1) at (833,1402); \coordinate (sh2) at (903,1402);
\draw[arr] (sh1) -- (sh1 |- saphora.north);
\draw[arr] (sh2) -- (sh2 |- safeera.north);
% panel 3
\coordinate (t1) at (229,1589); \coordinate (t2) at (790,1589); \coordinate (t3) at (828,1589); \coordinate (t4) at (835,1610);
\draw[ln] (t1) -- (t2);
\draw[garr] (t2) -- (t3);
\draw[garr] (t3) -- (t4);
\draw[narr] (t1) -- (t1 |- issac2.north);
\coordinate (i2) at (235,1672); \coordinate (i3) at (235,1756);
\draw[sln] (i2) -- (i2 |- ishaq.north);
\draw[narr] (ishaq.south -| i2) -- (i3);
\coordinate (eb1) at (155,1756); \coordinate (eb2) at (317,1756);
\draw[bar] (eb1) -- (eb2);
\draw[narr] (eb1) -- (eb1 |- esau.north);
\draw[narr] (eb2) -- (eb2 |- jacob.north);
\coordinate (lb3) at (477,1756); \coordinate (lb4) at (441,1756); \coordinate (lb5) at (545,1756);
\draw[ln] (laban2.south -| lb3) -- (lb3);
\draw[bar] (lb4) -- (lb5);
\draw[narr] (lb4) -- (lb4 |- leah.north);
\draw[narr] (lb5) -- (lb5 |- rachel.north);
\coordinate (j1) at (292,1813); \coordinate (j2) at (292,1857);
\draw[narr] (j1) -- (j2);
\draw[bar] (jl.east |- j2) -- (jr.west |- j2);
\coordinate (j3) at (125,1880); \coordinate (j4) at (435,1880);
\draw[narr] (j3) -- (j3 |- leahoff.north);
\draw[narr] (j4) -- (j4 |- racheloff.north);
\coordinate (jo1) at (481,1946); \coordinate (jo2) at (552,1946);
\draw[bar] (jo1) -- (jo2);
\draw[narr] (jo2) -- (jo2 |- joseph.north);
\coordinate (ju1) at (253,1993); \coordinate (ju2) at (287,1999); \coordinate (ju3) at (287,2080); \coordinate (ju4) at (287,2062); \coordinate (ju5) at (400,2062);
\draw[narr] (ju1) -- (ju2);
\draw[narr] (ju2) -- (ju3);
\draw[bar] (ju4) -- (ju5);
\draw[narr] (ju5) -- (400,2093);
\coordinate (js1) at (481,2114); \coordinate (js2) at (583,2114); \coordinate (js3) at (675,2114);
\draw[nln] (js1) -- (js3);
\draw[nln] (js2) -- (583,2125);
\draw[nln] (js3) -- (675,2125);
\draw[narr] (js1) -- (js1 |- aphbox.north);
\coordinate (g1) at (833,1701); \coordinate (g2) at (829,2102); \coordinate (g3) at (829,2145); \coordinate (g4) at (823,2257); \coordinate (g5) at (823,2317);
\draw[garr] (g1) -- (g2);
\draw[garr] (g3) -- (g4);
\draw[garr] (g4) -- (g5);
% panel 4
\coordinate (d1) at (264,2459);
\draw[sln] (d1) -- (d1 |- solomon.north);
\draw[narr] (solomon.south -| d1) -- (d1 |- bilqis.north);
\draw[narr] (bilqis.south -| d1) -- (d1 |- kings.north);
\coordinate (k1) at (298,2841);
\draw[narr] (k1) -- (k1 |- amram.north);
\coordinate (am1) at (320,2908); \coordinate (am2) at (320,2931); \coordinate (mb1) at (264,2931); \coordinate (mb2) at (378,2931); \coordinate (mb3) at (503,2931);
\draw[sln] (am1) -- (am2);
\draw[bar] (mb1) -- (mb3);
\draw[narr] (mb1) -- (264,2953);
\draw[narr] (mb2) -- (378,2953);
\draw[narr] (mb3) -- (503,2953);
% panel 5
\coordinate (ib1) at (195,3270); \coordinate (ib2) at (378,3270); \coordinate (ib3) at (675,3270);
\draw[bar] (ib1) -- (ib3);
\draw[narr] (ib1) -- (ib1 |- moses2.north);
\draw[narr] (ib2) -- (ib2 |- aaron.north);
\draw[narr] (ib3) -- (ib3 |- kulthum.north);
\coordinate (ea1) at (400,3357); \coordinate (ea2) at (400,3413); \coordinate (ea3) at (343,3472);
\draw[narr] (ea1) -- (ea2);
\draw[narr] (ea2) -- (ea3);
\coordinate (ea4) at (480,3357);
\draw[narr] (ea4) -- (ea4 |- aaronsons.north);
\coordinate (il1) at (308,3556);
\draw[narr] (il1) -- (il1 |- alyaasa.north);
% panel 6
\coordinate (lv1) at (157,3968); \coordinate (lv2) at (213,3968); \coordinate (lv3) at (319,4003); \coordinate (zc1) at (545,3968);
\draw[narr] (lv1) -- (lv1 |- imranb.north);
\draw[narr] (lv2) -- (lv3);
\draw[narr] (zc1) -- (zc1 |- elis.north);
\draw[narr] (imranb.south -| lv1) -- (lv1 |- mary.north);
\coordinate (my1) at (179,4128);
\draw[narr] (my1) -- (my1 |- essa.north);
\coordinate (el1) at (407,4038);
\draw[narr] (el1) -- (el1 |- yahya.north);
\coordinate (am3) at (773,4218); \coordinate (hb1) at (601,4251); \coordinate (hb2) at (910,4251); \coordinate (hb3) at (773,4251); \coordinate (hb4) at (807,4251);
\draw[garr] (am3) -- (hb3);
\draw[bar] (hb1) -- (hb2);
\draw[gln] (hb1) -- (hb1 |- abdushams.north);
\draw[gln] (hb4) -- (hb4 |- almatlib.north);
\draw[gln] (hb2) -- (hb2 |- nafal.north);
\coordinate (mt1) at (693,4357); \coordinate (mt2) at (693,4386); \coordinate (kb1) at (545,4386); \coordinate (kb2) at (899,4386);
\draw[gln] (mt1) -- (mt2);
\draw[bar] (kb1) -- (kb2);
\coordinate (dl1) at (647,4429); \coordinate (dl2) at (647,4480);
\draw[garr] (dl1) -- (dl2);
\end{pgfonlayer}

% ================= CONNECTORS drawn over boxes =================
\draw[ln] (sam.north -| c1) -- (cush.north -| c1);
\coordinate (ln1) at (437,1635); \coordinate (ln2) at (465,1698);
\draw[narr] (ln1) -- (ln2);
\coordinate (lv4) at (100,1966); \coordinate (lv5) at (84,2010); \coordinate (lv6) at (100,2117); \coordinate (lv7) at (103,2138);
\draw[narr] (lv4) -- (lv5);
\draw[narr] (lv5) -- (lv6);
\draw[narr] (lv6) -- (lv7);
\draw[narr] (407,2040) -- (407,2060);
\coordinate (pz1) at (273,2090); \coordinate (pz2) at (273,2193); \coordinate (pz3) at (289,2090); \coordinate (pz4) at (289,2317);
\draw[narr] (pz1) -- (pz2);
\draw[narr] (pz3) -- (pz4);
\draw[nln] (447,2197) -- (447,2243);
\coordinate (gv1) at (771,2336); \coordinate (gv2) at (771,3095);
\draw[gln] (gv1) -- (gv2);
\coordinate (ga1) at (753,2438); \coordinate (ga2) at (729,2440); \coordinate (ga3) at (729,2752); \coordinate (ga4) at (729,2923);
\draw[garr] (ga1) -- (ga2);
\draw[garr] (ga2) -- (ga3);
\draw[garr] (ga3) -- (ga4);
\coordinate (gb1) at (863,2912); \coordinate (gb2) at (863,3095);
\draw[garr] (gb1) -- (gb2);
\coordinate (gc1) at (771,3112); \coordinate (gc2) at (771,3232); \coordinate (gc3) at (850,3228); \coordinate (gc4) at (771,3439);
\draw[gln] (gc1) -- (gc2);
\draw[garr] (gc3) -- (gc2);
\draw[garr] (gc2) -- (gc4);
\coordinate (ez1) at (545,3451); \coordinate (ez2) at (590,3451); \coordinate (ez3) at (590,3652);
\draw[nln] (ez1) -- (ez2);
\draw[narr] (ez2) -- (ez3);
\coordinate (hs1) at (705,4251); \coordinate (hs2) at (705,4284);
\draw[garr] (hs1) -- (hs2);
\draw[garr] (hs2) -- (hs2 |- muttalib.north);
\draw[gln] (kb1) -- (545,4404);
\draw[garr] (647,4386) -- (647,4405);
\draw[gln] (727,4386) -- (727,4400);
\draw[gln] (808,4386) -- (808,4405);
\draw[gln] (kb2) -- (899,4405);
\end{tikzpicture}
\end{document}
